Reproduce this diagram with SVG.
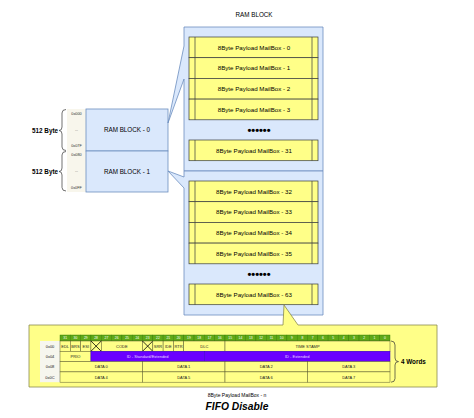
<svg xmlns="http://www.w3.org/2000/svg" width="474" height="418" viewBox="0 0 474 418">
<style>
text{font-family:"Liberation Sans",Arial,sans-serif;fill:#000;text-anchor:middle}
.cont{fill:#dae8fc;stroke:#6c8ebf;stroke-width:0.8}
.mb{fill:#ffff88;stroke:#36393d;stroke-width:0.7}
.mbl{stroke:#36393d;stroke-width:0.7}
.mt{font-size:6.2px}
.dots{font-size:11px;font-weight:bold}
.lbl{font-size:6.3px}
.b{font-weight:bold}
.addr{font-size:3.8px;fill:#333}
.hdr{fill:#60a917;stroke:#2d7600;stroke-width:0.4}
.ht{font-size:3.4px;fill:#fff}
.yc{fill:#ffff88;stroke:#5a5a30;stroke-width:0.5}
.pc{fill:#6a00ff;stroke:#3700cc;stroke-width:0.5}
.ct{font-size:4px;fill:#222}
.pt{font-size:4px;fill:#e6d9ff}
.br{fill:none;stroke:#333;stroke-width:0.7}
</style>

<text class="lbl" x="254" y="17">RAM BLOCK</text>

<!-- left side -->
<g id="address-column">
  <rect x="67" y="109" width="19" height="83" fill="#f8f6ec"/>
  <text class="addr" x="76.5" y="115">0x000</text>
  <text class="addr" x="76.5" y="131">...</text>
  <text class="addr" x="76.5" y="147">0x07F</text>
  <text class="addr" x="76.5" y="156">0x080</text>
  <text class="addr" x="76.5" y="172">...</text>
  <text class="addr" x="76.5" y="189">0x0FF</text>
</g>
<g id="brace-0">
  <path class="br" d="M66,109.5 Q62,109.5 62,113 L62,127 Q62,130.5 59,130.5 Q62,130.5 62,134 L62,147 Q62,150.5 66,150.5"/>
  <text class="lbl b" x="58" y="132.5" style="text-anchor:end">512 Byte</text>
</g>
<g id="brace-1">
  <path class="br" d="M66,151.5 Q62,151.5 62,155 L62,168 Q62,171.5 59,171.5 Q62,171.5 62,175 L62,187.5 Q62,191 66,191"/>
  <text class="lbl b" x="58" y="173.5" style="text-anchor:end">512 Byte</text>
</g>
<g id="ram-block-0">
  <rect class="cont" x="86" y="109" width="82" height="42"/>
  <text class="lbl" x="127" y="132.3">RAM BLOCK - 0</text>
</g>
<g id="ram-block-1">
  <rect class="cont" x="86" y="151" width="82" height="41"/>
  <text class="lbl" x="127" y="173.8">RAM BLOCK - 1</text>
</g>

<!-- top container (callout) -->
<g id="ram-block-top">
  <path class="cont" d="M184,27 H323 V171 H184 V79 L168,123 L184,46 Z"/>
</g>
<g id="ram-block-bottom">
  <path class="cont" d="M184,171 H323 V315 H184 V188 L168,171 L184,177 Z"/>
</g>

<g id="mailbox-0"><rect class="mb" x="189" y="37" width="129" height="20.7"/><path class="mbl" d="M195,37v20.7M312,37v20.7"/><text class="mt" x="254" y="49.6">8Byte Payload MailBox - 0</text></g>
<g id="mailbox-1"><rect class="mb" x="189" y="57.7" width="129" height="20.7"/><path class="mbl" d="M195,57.7v20.7M312,57.7v20.7"/><text class="mt" x="254" y="70.3">8Byte Payload MailBox - 1</text></g>
<g id="mailbox-2"><rect class="mb" x="189" y="78.4" width="129" height="20.7"/><path class="mbl" d="M195,78.4v20.7M312,78.4v20.7"/><text class="mt" x="254" y="91">8Byte Payload MailBox - 2</text></g>
<g id="mailbox-3"><rect class="mb" x="189" y="99.1" width="129" height="20.7"/><path class="mbl" d="M195,99.1v20.7M312,99.1v20.7"/><text class="mt" x="254" y="111.7">8Byte Payload MailBox - 3</text></g>
<text class="dots" x="259" y="133.5">••••••</text>
<g id="mailbox-31"><rect class="mb" x="189" y="140" width="129" height="20.7"/><path class="mbl" d="M195,140v20.7M312,140v20.7"/><text class="mt" x="254" y="152.6">8Byte Payload MailBox - 31</text></g>

<g id="mailbox-32"><rect class="mb" x="189" y="181" width="129" height="20.7"/><path class="mbl" d="M195,181v20.7M312,181v20.7"/><text class="mt" x="254" y="193.6">8Byte Payload MailBox - 32</text></g>
<g id="mailbox-33"><rect class="mb" x="189" y="201.7" width="129" height="20.7"/><path class="mbl" d="M195,201.7v20.7M312,201.7v20.7"/><text class="mt" x="254" y="214.3">8Byte Payload MailBox - 33</text></g>
<g id="mailbox-34"><rect class="mb" x="189" y="222.4" width="129" height="20.7"/><path class="mbl" d="M195,222.4v20.7M312,222.4v20.7"/><text class="mt" x="254" y="235">8Byte Payload MailBox - 34</text></g>
<g id="mailbox-35"><rect class="mb" x="189" y="243.1" width="129" height="20.7"/><path class="mbl" d="M195,243.1v20.7M312,243.1v20.7"/><text class="mt" x="254" y="255.7">8Byte Payload MailBox - 35</text></g>
<text class="dots" x="259" y="277.5">••••••</text>
<g id="mailbox-63"><rect class="mb" x="189" y="284" width="129" height="20.7"/><path class="mbl" d="M195,284v20.7M312,284v20.7"/><text class="mt" x="254" y="296.6">8Byte Payload MailBox - 63</text></g>

<!-- mailbox n table (callout) -->
<g id="mailbox-n">
  <path d="M29,325 H283 L284,305 L298,325 H437 V387 H29 Z" fill="#ffff88" stroke="#8a8a50" stroke-width="0.8"/>
  <rect x="40" y="341" width="20" height="41.2" fill="#f6f6ee"/>
  <text class="ct" x="50" y="347.6">0x00</text>
  <text class="ct" x="50" y="357.9">0x04</text>
  <text class="ct" x="50" y="368.2">0x08</text>
  <text class="ct" x="50" y="378.5">0x0C</text>

  <!-- header bits -->
  <g>
    <rect class="hdr" x="60" y="335" width="10.31" height="6"/><text class="ht" x="65.16" y="339.4">31</text>
    <rect class="hdr" x="70.31" y="335" width="10.31" height="6"/><text class="ht" x="75.47" y="339.4">30</text>
    <rect class="hdr" x="80.63" y="335" width="10.31" height="6"/><text class="ht" x="85.78" y="339.4">29</text>
    <rect class="hdr" x="90.94" y="335" width="10.31" height="6"/><text class="ht" x="96.09" y="339.4">28</text>
    <rect class="hdr" x="101.25" y="335" width="10.31" height="6"/><text class="ht" x="106.41" y="339.4">27</text>
    <rect class="hdr" x="111.56" y="335" width="10.31" height="6"/><text class="ht" x="116.72" y="339.4">26</text>
    <rect class="hdr" x="121.88" y="335" width="10.31" height="6"/><text class="ht" x="127.03" y="339.4">25</text>
    <rect class="hdr" x="132.19" y="335" width="10.31" height="6"/><text class="ht" x="137.34" y="339.4">24</text>
    <rect class="hdr" x="142.5" y="335" width="10.31" height="6"/><text class="ht" x="147.66" y="339.4">23</text>
    <rect class="hdr" x="152.81" y="335" width="10.31" height="6"/><text class="ht" x="157.97" y="339.4">22</text>
    <rect class="hdr" x="163.13" y="335" width="10.31" height="6"/><text class="ht" x="168.28" y="339.4">21</text>
    <rect class="hdr" x="173.44" y="335" width="10.31" height="6"/><text class="ht" x="178.59" y="339.4">20</text>
    <rect class="hdr" x="183.75" y="335" width="10.31" height="6"/><text class="ht" x="188.91" y="339.4">19</text>
    <rect class="hdr" x="194.06" y="335" width="10.31" height="6"/><text class="ht" x="199.22" y="339.4">18</text>
    <rect class="hdr" x="204.38" y="335" width="10.31" height="6"/><text class="ht" x="209.53" y="339.4">17</text>
    <rect class="hdr" x="214.69" y="335" width="10.31" height="6"/><text class="ht" x="219.84" y="339.4">16</text>
    <rect class="hdr" x="225" y="335" width="10.31" height="6"/><text class="ht" x="230.16" y="339.4">15</text>
    <rect class="hdr" x="235.31" y="335" width="10.31" height="6"/><text class="ht" x="240.47" y="339.4">14</text>
    <rect class="hdr" x="245.63" y="335" width="10.31" height="6"/><text class="ht" x="250.78" y="339.4">13</text>
    <rect class="hdr" x="255.94" y="335" width="10.31" height="6"/><text class="ht" x="261.09" y="339.4">12</text>
    <rect class="hdr" x="266.25" y="335" width="10.31" height="6"/><text class="ht" x="271.41" y="339.4">11</text>
    <rect class="hdr" x="276.56" y="335" width="10.31" height="6"/><text class="ht" x="281.72" y="339.4">10</text>
    <rect class="hdr" x="286.88" y="335" width="10.31" height="6"/><text class="ht" x="292.03" y="339.4">9</text>
    <rect class="hdr" x="297.19" y="335" width="10.31" height="6"/><text class="ht" x="302.34" y="339.4">8</text>
    <rect class="hdr" x="307.5" y="335" width="10.31" height="6"/><text class="ht" x="312.66" y="339.4">7</text>
    <rect class="hdr" x="317.81" y="335" width="10.31" height="6"/><text class="ht" x="322.97" y="339.4">6</text>
    <rect class="hdr" x="328.13" y="335" width="10.31" height="6"/><text class="ht" x="333.28" y="339.4">5</text>
    <rect class="hdr" x="338.44" y="335" width="10.31" height="6"/><text class="ht" x="343.59" y="339.4">4</text>
    <rect class="hdr" x="348.75" y="335" width="10.31" height="6"/><text class="ht" x="353.91" y="339.4">3</text>
    <rect class="hdr" x="359.06" y="335" width="10.31" height="6"/><text class="ht" x="364.22" y="339.4">2</text>
    <rect class="hdr" x="369.38" y="335" width="10.31" height="6"/><text class="ht" x="374.53" y="339.4">1</text>
    <rect class="hdr" x="379.69" y="335" width="10.31" height="6"/><text class="ht" x="384.84" y="339.4">0</text>
  </g>

  <!-- row 0x00 -->
  <rect class="yc" x="60" y="341" width="10.31" height="10.3"/><text class="ct" x="65.16" y="347.6">EDL</text>
  <rect class="yc" x="70.31" y="341" width="10.31" height="10.3"/><text class="ct" x="75.47" y="347.6">BRS</text>
  <rect class="yc" x="80.63" y="341" width="10.31" height="10.3"/><text class="ct" x="85.78" y="347.6">ESI</text>
  <rect class="yc" x="90.94" y="341" width="10.31" height="10.3"/>
  <path d="M90.94,341 L101.25,351.3 M101.25,341 L90.94,351.3" stroke="#000" stroke-width="0.8"/>
  <rect class="yc" x="101.25" y="341" width="41.25" height="10.3"/><text class="ct" x="121.88" y="347.6">CODE</text>
  <rect class="yc" x="142.5" y="341" width="10.31" height="10.3"/>
  <path d="M142.5,341 L152.81,351.3 M152.81,341 L142.5,351.3" stroke="#000" stroke-width="0.8"/>
  <rect class="yc" x="152.81" y="341" width="10.31" height="10.3"/><text class="ct" x="157.97" y="347.6">SRR</text>
  <rect class="yc" x="163.13" y="341" width="10.31" height="10.3"/><text class="ct" x="168.28" y="347.6">IDE</text>
  <rect class="yc" x="173.44" y="341" width="10.31" height="10.3"/><text class="ct" x="178.59" y="347.6">RTR</text>
  <rect class="yc" x="183.75" y="341" width="41.25" height="10.3"/><text class="ct" x="204.38" y="347.6">DLC</text>
  <rect class="yc" x="225" y="341" width="165" height="10.3"/><text class="ct" x="307.5" y="347.6">TIME STAMP</text>

  <!-- row 0x04 -->
  <rect class="yc" x="60" y="351.3" width="30.94" height="10.3"/><text class="ct" x="75.47" y="357.9">PRIO</text>
  <rect class="pc" x="90.94" y="351.3" width="113.44" height="10.3"/><text class="pt" x="147.66" y="357.9">ID - Standard/Extended</text>
  <rect class="pc" x="204.38" y="351.3" width="185.62" height="10.3"/><text class="pt" x="297.19" y="357.9">ID - Extended</text>

  <!-- row 0x08 -->
  <rect class="yc" x="60" y="361.6" width="82.5" height="10.3"/><text class="ct" x="101.25" y="368.2">DATA 0</text>
  <rect class="yc" x="142.5" y="361.6" width="82.5" height="10.3"/><text class="ct" x="183.75" y="368.2">DATA 1</text>
  <rect class="yc" x="225" y="361.6" width="82.5" height="10.3"/><text class="ct" x="266.25" y="368.2">DATA 2</text>
  <rect class="yc" x="307.5" y="361.6" width="82.5" height="10.3"/><text class="ct" x="348.75" y="368.2">DATA 3</text>

  <!-- row 0x0C -->
  <rect class="yc" x="60" y="371.9" width="82.5" height="10.3"/><text class="ct" x="101.25" y="378.5">DATA 4</text>
  <rect class="yc" x="142.5" y="371.9" width="82.5" height="10.3"/><text class="ct" x="183.75" y="378.5">DATA 5</text>
  <rect class="yc" x="225" y="371.9" width="82.5" height="10.3"/><text class="ct" x="266.25" y="378.5">DATA 6</text>
  <rect class="yc" x="307.5" y="371.9" width="82.5" height="10.3"/><text class="ct" x="348.75" y="378.5">DATA 7</text>
</g>

<g id="brace-words">
  <path class="br" d="M391,341 Q395,341 395,345 L395,358 Q395,361.6 398.5,361.6 Q395,361.6 395,365 L395,378.5 Q395,382.2 391,382.2"/>
  <text class="lbl b" x="401" y="363.8" style="text-anchor:start">4 Words</text>
</g>

<g id="connectors"></g>

<text x="237" y="396.5" style="font-size:5px">8Byte Payload MailBox - n</text>
<text x="237" y="410" style="font-size:10.3px;font-weight:bold;font-style:italic">FIFO Disable</text>
</svg>
